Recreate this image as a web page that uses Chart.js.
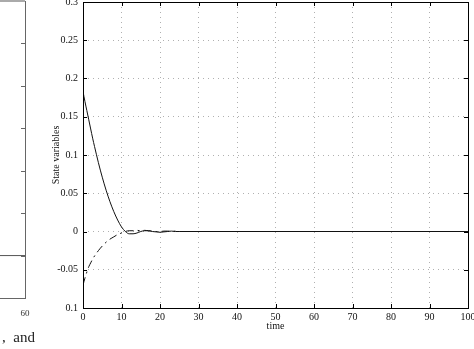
<!DOCTYPE html>
<html>
<head>
<meta charset="utf-8">
<script src="https://cdn.jsdelivr.net/npm/chart.js@4"></script>
<style>
  body { margin: 0; background: #fff; }
  #wrap { position: relative; width: 474px; height: 349px; overflow: hidden; }
  #main { position: absolute; left: 0; top: 0; }
  #fragBox { position: absolute; left: 0; top: 0; width: 32px; height: 349px; overflow: hidden; }
  #frag { position: absolute; left: -270px; top: 0; }
  #note { position: absolute; left: 2px; top: 329px; font: 15px "Liberation Serif", serif; color: #222; }
</style>
</head>
<body>
<div id="wrap">
  <div id="fragBox"><canvas id="frag" width="300" height="349"></canvas></div>
  <canvas id="main" width="474" height="349"></canvas>
  <div id="note">,&nbsp; and</div>
</div>
<script>
// simulation output
var time = [0, 0.5, 1, 1.5, 2, 2.5, 3, 4, 5, 6, 7, 8, 9, 10, 11, 12, 13, 14, 15, 16, 17, 18, 19, 20, 21, 22, 23, 24, 25, 26, 100];
var state1 = [0.183, 0.170, 0.158, 0.146, 0.134, 0.122, 0.111, 0.090, 0.071, 0.054, 0.039, 0.026, 0.015, 0.006, 0.000, -0.003, -0.003, -0.002, 0.000, 0.001, 0.001, 0.000, -0.0005, -0.001, -0.0005, 0.000, 0.0005, 0.000, 0.000, 0.000, 0.000];
var state2 = [-0.070, -0.061, -0.053, -0.046, -0.041, -0.036, -0.032, -0.025, -0.019, -0.014, -0.010, -0.007, -0.004, -0.002, 0.000, 0.001, 0.001, 0.0015, 0.001, 0.0015, 0.001, 0.0005, 0.000, 0.000, 0.0005, 0.0005, 0.000, 0.0005, 0.000, 0.000, 0.000];
var yTickLabels = {'0.3': '0.3', '0.25': '0.25', '0.2': '0.2', '0.15': '0.15', '0.1': '0.1', '0.05': '0.05', '0': '0', '-0.05': '-0.05', '-0.1': '0.1'};

// neighbouring panel (only its right edge shows)
var fragX = [0, 60];
var fragY = [1, 1];

var serif = '"Liberation Serif", "DejaVu Serif", serif';

function pts(xs, ys) {
    var out = [];
    for (var i in xs) {
        out.push({x: xs[i], y: ys[i]});
    }
    return out;
}

// box + inward ticks like the matlab plot
var frameBox = {
    id: 'frameBox',
    afterDraw: function (chart, args, opts) {
        var ctx = chart.ctx;
        var a = chart.chartArea;
        var L = opts.tick || 4;
        ctx.save();
        ctx.strokeStyle = opts.color || '#000';
        ctx.lineWidth = 1;
        ctx.beginPath();
        var xs = chart.scales.x, ys = chart.scales.y;
        if (opts.xTicks) {
            xs.ticks.forEach(function (t) {
                var px = Math.round(xs.getPixelForValue(t.value)) + 0.5;
                ctx.moveTo(px, a.bottom); ctx.lineTo(px, a.bottom - L);
                ctx.moveTo(px, a.top); ctx.lineTo(px, a.top + L);
            });
        }
        ys.ticks.forEach(function (t) {
            var py = Math.round(ys.getPixelForValue(t.value)) + 0.5;
            if (opts.leftTicks) { ctx.moveTo(a.left, py); ctx.lineTo(a.left + L, py); }
            ctx.moveTo(a.right, py); ctx.lineTo(a.right - L, py);
        });
        ctx.stroke();
        ctx.strokeRect(Math.round(a.left) + 0.5, Math.round(a.top) + 0.5,
            Math.round(a.right - a.left), Math.round(a.bottom - a.top));
        if (opts.topColor) {
            ctx.strokeStyle = opts.topColor;
            ctx.lineWidth = 2;
            ctx.beginPath();
            ctx.moveTo(0, a.top); ctx.lineTo(a.right, a.top);
            ctx.stroke();
        }
        ctx.restore();
    }
};

new Chart(document.getElementById('main'), {
    type: 'line',
    data: {
        datasets: [
            {
                data: pts(time, state1),
                borderColor: '#111',
                borderWidth: 1,
                pointRadius: 0,
                cubicInterpolationMode: 'monotone'
            },
            {
                data: pts(time, state2),
                borderColor: '#111',
                borderWidth: 1,
                borderDash: [8, 4, 2, 4],
                pointRadius: 0,
                cubicInterpolationMode: 'monotone'
            }
        ]
    },
    options: {
        responsive: false,
        animation: false,
        devicePixelRatio: 1,
        layout: { padding: { left: 0, right: 6, top: 2, bottom: 0 } },
        plugins: {
            legend: { display: false },
            tooltip: { enabled: false },
            frameBox: { tick: 4, xTicks: true, leftTicks: true }
        },
        scales: {
            x: {
                type: 'linear',
                min: 0,
                max: 100,
                ticks: { stepSize: 10, maxRotation: 0, autoSkip: false, padding: 3, color: '#111', font: { family: serif, size: 10 } },
                grid: { color: '#b0b0b0', drawTicks: false },
                border: { display: false, dash: [1, 4] },
                title: { display: true, text: 'time', color: '#111', font: { family: serif, size: 10 }, padding: { top: 0, bottom: 17 } },
                afterFit: function (s) { s.height = 41; s.paddingLeft = 0; s.paddingRight = 0; }
            },
            y: {
                min: -0.1,
                max: 0.3,
                ticks: {
                    stepSize: 0.05,
                    padding: 5,
                    color: '#111',
                    font: { family: serif, size: 10 },
                    callback: function (v) {
                        var k = String(Math.round(v * 100) / 100);
                        return yTickLabels[k] !== undefined ? yTickLabels[k] : k;
                    }
                },
                grid: { color: '#b0b0b0', drawTicks: false },
                border: { display: false, dash: [1, 4] },
                title: { display: true, text: 'State variables', color: '#111', font: { family: serif, size: 10 }, padding: { top: 50, bottom: 0 } },
                afterFit: function (s) { s.width = 83; s.paddingTop = 0; s.paddingBottom = 0; }
            }
        }
    },
    plugins: [frameBox]
});

new Chart(document.getElementById('frag'), {
    type: 'line',
    data: {
        datasets: [
            {
                data: pts(fragX, fragY),
                borderColor: '#555',
                borderWidth: 1,
                pointRadius: 0
            }
        ]
    },
    options: {
        responsive: false,
        animation: false,
        devicePixelRatio: 1,
        layout: { padding: { left: 0, right: 5, top: 1, bottom: 0 } },
        plugins: {
            legend: { display: false },
            tooltip: { enabled: false },
            frameBox: { tick: 4, color: '#666', topColor: '#aaa' }
        },
        scales: {
            x: {
                type: 'linear',
                min: 0,
                max: 60,
                ticks: { stepSize: 10, maxRotation: 0, autoSkip: false, padding: 2, color: '#333', font: { family: serif, size: 9 } },
                grid: { display: false },
                border: { display: false },
                afterFit: function (s) { s.height = 51; s.paddingLeft = 0; s.paddingRight = 0; }
            },
            y: {
                display: false,
                min: 0,
                max: 7,
                ticks: { stepSize: 1 }
            }
        }
    },
    plugins: [frameBox]
});
</script>
</body>
</html>
